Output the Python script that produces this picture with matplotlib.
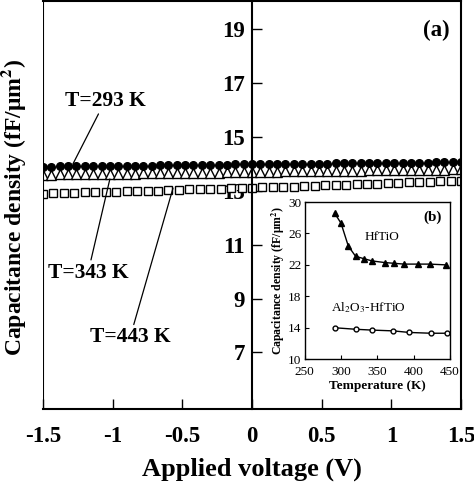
import numpy as np
import matplotlib
matplotlib.use("Agg")
import matplotlib.pyplot as plt

plt.rcParams['font.family'] = ['Liberation Serif', 'DejaVu Serif']
plt.rcParams['mathtext.fontset'] = 'stix'

# main panel (a): C-V at three temperatures
v_293 = np.linspace(-1.5, 1.5, 51)
c_293 = [13.90, 13.90, 13.91, 13.91, 13.91, 13.92, 13.92, 13.92, 13.93, 13.93,
         13.93, 13.94, 13.94, 13.94, 13.95, 13.95, 13.95, 13.96, 13.96, 13.96,
         13.97, 13.97, 13.97, 13.98, 13.98, 13.98, 13.99, 13.99, 13.99, 14.00,
         14.00, 14.00, 14.01, 14.01, 14.01, 14.02, 14.02, 14.02, 14.03, 14.03,
         14.03, 14.04, 14.04, 14.04, 14.05, 14.05, 14.05, 14.06, 14.06, 14.07, 14.07]

v_343 = np.linspace(-1.5, 1.5, 51)
c_343 = [13.60, 13.60, 13.61, 13.61, 13.62, 13.62, 13.62, 13.63, 13.63, 13.64,
         13.64, 13.64, 13.65, 13.65, 13.66, 13.66, 13.66, 13.67, 13.67, 13.68,
         13.68, 13.68, 13.69, 13.69, 13.70, 13.70, 13.70, 13.71, 13.71, 13.72,
         13.72, 13.72, 13.73, 13.73, 13.74, 13.74, 13.74, 13.75, 13.75, 13.76,
         13.76, 13.76, 13.77, 13.77, 13.78, 13.78, 13.78, 13.79, 13.79, 13.80, 13.80]

v_443 = np.linspace(-1.5, 1.5, 41)
c_443 = [12.90, 12.91, 12.92, 12.93, 12.94, 12.95, 12.96, 12.97, 12.98, 12.99,
         13.00, 13.01, 13.02, 13.04, 13.05, 13.06, 13.07, 13.08, 13.09, 13.10,
         13.12, 13.13, 13.14, 13.15, 13.16, 13.18, 13.19, 13.20, 13.21, 13.23,
         13.24, 13.25, 13.27, 13.28, 13.29, 13.31, 13.32, 13.34, 13.35, 13.37, 13.38]

# inset (b): capacitance vs temperature
t_hftio = [291, 300, 310, 320, 331, 343, 360, 373, 387, 406, 422, 445]
c_hftio = [28.6, 27.3, 24.4, 23.1, 22.8, 22.5, 22.3, 22.2, 22.1, 22.1, 22.1, 22.0]
t_al = [291, 321, 343, 372, 394, 424, 446]
c_al = [14.0, 13.8, 13.7, 13.6, 13.4, 13.3, 13.3]

fig = plt.figure(figsize=(4.74, 4.88), dpi=100)
ax = fig.add_axes([0.0907, 0.162, 0.882, 0.836])

ax.plot(v_443, c_443, ls='none', marker='s', ms=5.5, mfc='white', mec='black', mew=1.0)
ax.plot(v_343, c_343, ls='none', marker='^', ms=6.5, mfc='white', mec='black', mew=1.0)
ax.plot(v_293, c_293, ls='none', marker='o', ms=5.5, mfc='black', mec='black')

ax.set_xlim(-1.5, 1.5)
ax.set_ylim(4.9, 20.05)
ax.spines['left'].set_position(('data', 0))
ax.axvline(-1.5, color='black', lw=1.5)
for s in ax.spines.values():
    s.set_linewidth(1.5)
ax.set_xticks([-1.5, -1, -0.5, 0, 0.5, 1, 1.5])
ax.set_xticklabels(['-1.5', '-1', '-0.5', '0', '0.5', '1', '1.5'])
ax.set_yticks([7, 9, 11, 13, 15, 17, 19])
ax.tick_params(axis='both', direction='in', length=7, width=1, labelsize=16.5)
ax.tick_params(axis='x', pad=12)
ax.tick_params(axis='y', pad=5)
for lab in ax.get_xticklabels() + ax.get_yticklabels():
    lab.set_fontweight('bold')

ax.set_xlabel('Applied voltage (V)', fontsize=19, fontweight='bold', labelpad=8)
fig.text(0.028, 0.575, 'Capacitance density (fF/μm$^\\mathbf{2}$)', rotation=90,
         fontsize=17, fontweight='bold', ha='center', va='center')

ax.text(1.32, 18.95, '(a)', fontsize=16.5, fontweight='bold', ha='center', va='center')

ann = dict(arrowstyle='-', color='black', lw=0.9, shrinkA=0, shrinkB=0)
ax.annotate('T=293 K', xy=(-1.285, 14.0), xytext=(-1.055, 16.33), fontsize=15.5,
            fontweight='bold', ha='center', va='center', arrowprops=ann)
ax.annotate('T=343 K', xy=(-1.02, 13.44), xytext=(-1.177, 9.96), fontsize=15.5,
            fontweight='bold', ha='center', va='center', arrowprops=ann)
ax.annotate('T=443 K', xy=(-0.567, 13.1), xytext=(-0.875, 7.56), fontsize=15.5,
            fontweight='bold', ha='center', va='center', arrowprops=ann)

# inset
ins = fig.add_axes([0.643, 0.264, 0.306, 0.322])
ins.plot(t_hftio, c_hftio, color='black', lw=1.0, marker='^', ms=4, mfc='black')
ins.plot(t_al, c_al, color='black', lw=1.0, marker='o', ms=3.5, mfc='white')
ins.set_xlim(250, 450)
ins.set_ylim(10, 30)
ins.set_xticks([250, 300, 350, 400, 450])
ins.set_yticks([10, 14, 18, 22, 26, 30])
ins.tick_params(direction='in', length=3, labelsize=9.5)
ins.tick_params(axis='x', pad=5)
ins.tick_params(axis='y', pad=2.5)
for s in ins.spines.values():
    s.set_linewidth(1.0)
ins.set_xlabel('Temperature (K)', fontsize=9.5, fontweight='bold', labelpad=1)
ins.set_ylabel('Capacitance density (fF/μm$^\\mathbf{2}$)', fontsize=8.5, fontweight='bold', labelpad=1)
ins.text(0.88, 0.9, '(b)', transform=ins.transAxes, fontsize=11, fontweight='bold',
         ha='center', va='center')
ins.text(357, 25.6, 'HfTiO', fontsize=9.5, ha='center', va='center')
ins.text(338, 16.6, 'Al$_2$O$_3$-HfTiO', fontsize=9.5, ha='center', va='center')

fig.savefig('out.png', dpi=100)
